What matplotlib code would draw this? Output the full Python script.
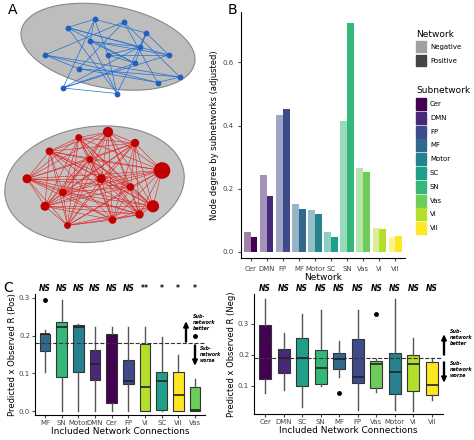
import matplotlib
matplotlib.use("Agg")
import matplotlib.pyplot as plt
from matplotlib.patches import Ellipse
import numpy as np

subnets = ["Cer","DMN","FP","MF","Motor","SC","SN","Vas","VI","VII"]
colors = {"Cer":"#440154","DMN":"#482878","FP":"#3E4A89","MF":"#31688E","Motor":"#26828E",
          "SC":"#1F9E89","SN":"#35B779","Vas":"#6DCD59","VI":"#B4DE2C","VII":"#FDE725"}
neg_deg = [0.062,0.243,0.433,0.150,0.131,0.064,0.413,0.264,0.074,0.048]
pos_deg = [0.048,0.176,0.452,0.136,0.121,0.047,0.724,0.252,0.073,0.050]

pos_order = ["MF","SN","Motor","DMN","Cer","FP","VI","SC","VII","Vas"]
pos_q1 = [0.160,0.091,0.104,0.082,0.023,0.072,0.0,0.004,0.0,0.0]
pos_med = [0.203,0.222,0.222,0.124,0.114,0.080,0.064,0.080,0.044,0.002]
pos_q3 = [0.205,0.237,0.227,0.161,0.204,0.135,0.179,0.104,0.104,0.064]
pos_lo = [0.104,0.0,0.0,0.0,0.0,0.0,0.0,0.0,0.0,0.0]
pos_hi = [0.215,0.295,0.230,0.222,0.224,0.222,0.222,0.196,0.149,0.085]
pos_out = [[0.295],[],[],[],[],[],[],[],[],[0.20]]
pos_sig = ["NS","NS","NS","NS","NS","NS","**","*","*","*"]

neg_order = ["Cer","DMN","SC","SN","MF","FP","Vas","Motor","VI","VII"]
neg_q1 = [0.122,0.143,0.099,0.105,0.155,0.110,0.094,0.075,0.084,0.071]
neg_med = [0.247,0.190,0.190,0.156,0.185,0.130,0.172,0.145,0.172,0.104]
neg_q3 = [0.297,0.220,0.254,0.215,0.205,0.252,0.180,0.207,0.200,0.177]
neg_lo = [0.077,0.087,0.032,0.100,0.130,0.022,0.080,0.022,0.020,0.055]
neg_hi = [0.378,0.270,0.330,0.345,0.245,0.345,0.185,0.378,0.253,0.190]
neg_out = [[],[],[],[],[0.078],[],[0.33],[],[],[]]
neg_sig = ["NS"]*10

# brain network nodes (axes fraction)
blue_x = [0.20,0.30,0.42,0.55,0.65,0.75,0.35,0.48,0.60,0.70,0.28,0.52,0.80,0.40,0.62]
blue_y = [0.80,0.90,0.93,0.92,0.88,0.80,0.75,0.80,0.77,0.70,0.68,0.66,0.72,0.85,0.83]
red_x = [0.12,0.22,0.35,0.48,0.60,0.72,0.28,0.45,0.58,0.68,0.30,0.50,0.62,0.20,0.40]
red_y = [0.35,0.45,0.50,0.52,0.48,0.38,0.30,0.35,0.32,0.25,0.18,0.20,0.22,0.25,0.42]
red_size = [30,20,15,40,25,120,20,30,20,60,15,20,25,30,15]

fig = plt.figure(figsize=(4.74,4.4), dpi=100)
W,H = 474,440
def ax_px(x0,y0,x1,y1):
    return fig.add_axes([x0/W, 1-y1/H, (x1-x0)/W, (y1-y0)/H])

# Panel A
axA = ax_px(0,0,225,275)
axA.set_xlim(0,1); axA.set_ylim(0,1); axA.axis("off")
axA.add_patch(Ellipse((0.48,0.83),0.78,0.30,angle=-8,fc="#bdbdbd",ec="#888",lw=0.8))
axA.add_patch(Ellipse((0.42,0.33),0.80,0.42,angle=5,fc="#c4c4c4",ec="#888",lw=0.8))
for i in range(len(blue_x)):
    for j in range(i+1,len(blue_x)):
        if (i+j)%3==0:
            axA.plot([blue_x[i],blue_x[j]],[blue_y[i],blue_y[j]],color="#1f6fd6",lw=0.5)
axA.scatter(blue_x,blue_y,s=10,color="#1f5fc0",zorder=3)
for i in range(len(red_x)):
    for j in range(i+1,len(red_x)):
        axA.plot([red_x[i],red_x[j]],[red_y[i],red_y[j]],color="#e02020",lw=0.4)
axA.scatter(red_x,red_y,s=red_size,color="#c00000",zorder=3)
fig.text(8/W,1-14/H,"A",fontsize=10)

# Panel B
axB = ax_px(241,12,405,258)
x = np.arange(len(subnets))
w = 0.42
for i,s in enumerate(subnets):
    axB.bar(x[i]-w/2, neg_deg[i], w, color=colors[s], alpha=0.5, lw=0)
    axB.bar(x[i]+w/2, pos_deg[i], w, color=colors[s], lw=0)
axB.set_xticks(x); axB.set_xticklabels(subnets, fontsize=5, color="#444")
axB.set_ylim(-0.02,0.76); axB.set_xlim(-0.6,9.6)
axB.set_yticks([0,0.2,0.4,0.6]); axB.set_yticklabels(["0.0","0.2","0.4","0.6"])
axB.tick_params(labelsize=5, colors="#444", length=2)
for sp in ["top","right"]: axB.spines[sp].set_visible(False)
axB.set_xlabel("Network", fontsize=6.5, labelpad=1)
axB.set_ylabel("Node degree by subnetworks (adjusted)", fontsize=6, labelpad=2)
fig.text(228/W,1-14/H,"B",fontsize=10)
fig.text(416/W,1-37/H,"Network",fontsize=6.5)
for k,(lab,col) in enumerate([("Negative","#a0a0a0"),("Positive","#444444")]):
    yy = 41+k*14
    fig.patches.append(plt.Rectangle((416/W,1-(yy+11)/H),10/W,11/H,transform=fig.transFigure,color=col))
    fig.text(430/W,1-(yy+8)/H,lab,fontsize=5)
fig.text(416/W,1-93/H,"Subnetwork",fontsize=6.5)
for k,s in enumerate(subnets):
    yy = 98+k*13.8
    fig.patches.append(plt.Rectangle((416/W,1-(yy+12)/H),10/W,12/H,transform=fig.transFigure,color=colors[s]))
    fig.text(430/W,1-(yy+8)/H,s,fontsize=5)

def boxpanel(ax, order, q1, med, q3, lo, hi, out, sig, ref, ylim, yticks, ylabel):
    stats = [dict(q1=q1[i],med=med[i],q3=q3[i],whislo=lo[i],whishi=hi[i],fliers=out[i]) for i in range(len(order))]
    bp = ax.bxp(stats, positions=range(len(order)), widths=0.65, patch_artist=True,
                showcaps=False,
                medianprops=dict(color="#222",lw=1.2),
                whiskerprops=dict(color="#555",lw=1),
                boxprops=dict(lw=0.8, edgecolor="#333"),
                flierprops=dict(marker="o",mfc="black",mec="black",ms=2.5))
    for p,s in zip(bp["boxes"],order):
        p.set_facecolor(colors[s])
    ax.axhline(ref, ls="--", color="#333", lw=0.8)
    ax.set_ylim(*ylim); ax.set_xlim(-0.6,len(order)-0.4)
    ax.set_xticks(range(len(order))); ax.set_xticklabels(order)
    ax.set_yticks(yticks); ax.set_yticklabels([f"{t:.1f}" for t in yticks])
    ax.tick_params(labelsize=5, colors="#444", length=2, pad=1.5)
    for sp in ["top","right"]: ax.spines[sp].set_visible(False)
    ax.set_xlabel("Included Network Connections", fontsize=6.5, labelpad=0.5)
    ax.set_ylabel(ylabel, fontsize=6, labelpad=1)
    for i,t in enumerate(sig):
        ax.text(i, 1.01, t, transform=ax.get_xaxis_transform(), ha="center", va="bottom",
                fontsize=5.5, fontweight="bold", style="italic")

axC1 = ax_px(35,294,205,415)
boxpanel(axC1,pos_order,pos_q1,pos_med,pos_q3,pos_lo,pos_hi,pos_out,pos_sig,0.18,(-0.01,0.31),[0,0.1,0.2,0.3],"Predicted x Observed R (Pos)")
fig.text(3/W,1-292/H,"C",fontsize=10)
fig.text(193/W,1-330/H,"Sub-\nnetwork\nbetter",fontsize=3.5,style="italic",fontweight="bold")
fig.text(200/W,1-362/H,"Sub-\nnetwork\nworse",fontsize=3.3,style="italic",fontweight="bold")
fig.patches.append(matplotlib.patches.FancyArrow(186/W,1-342/H,0,14/H,width=0.002,head_width=0.01,head_length=0.012,transform=fig.transFigure,color="black"))
fig.patches.append(matplotlib.patches.FancyArrow(195/W,1-345/H,0,-14/H,width=0.002,head_width=0.01,head_length=0.012,transform=fig.transFigure,color="black"))

axC2 = ax_px(254,294,443,414)
boxpanel(axC2,neg_order,neg_q1,neg_med,neg_q3,neg_lo,neg_hi,neg_out,neg_sig,0.19,(0.01,0.395),[0.1,0.2,0.3],"Predicted x Observed R (Neg)")
fig.text(450/W,1-345/H,"Sub-\nnetwork\nbetter",fontsize=3.5,style="italic",fontweight="bold")
fig.text(450/W,1-377/H,"Sub-\nnetwork\nworse",fontsize=3.5,style="italic",fontweight="bold")
fig.patches.append(matplotlib.patches.FancyArrow(444/W,1-355/H,0,14/H,width=0.002,head_width=0.01,head_length=0.012,transform=fig.transFigure,color="black"))
fig.patches.append(matplotlib.patches.FancyArrow(444/W,1-362/H,0,-14/H,width=0.002,head_width=0.01,head_length=0.012,transform=fig.transFigure,color="black"))

fig.savefig("out.png", dpi=100)
